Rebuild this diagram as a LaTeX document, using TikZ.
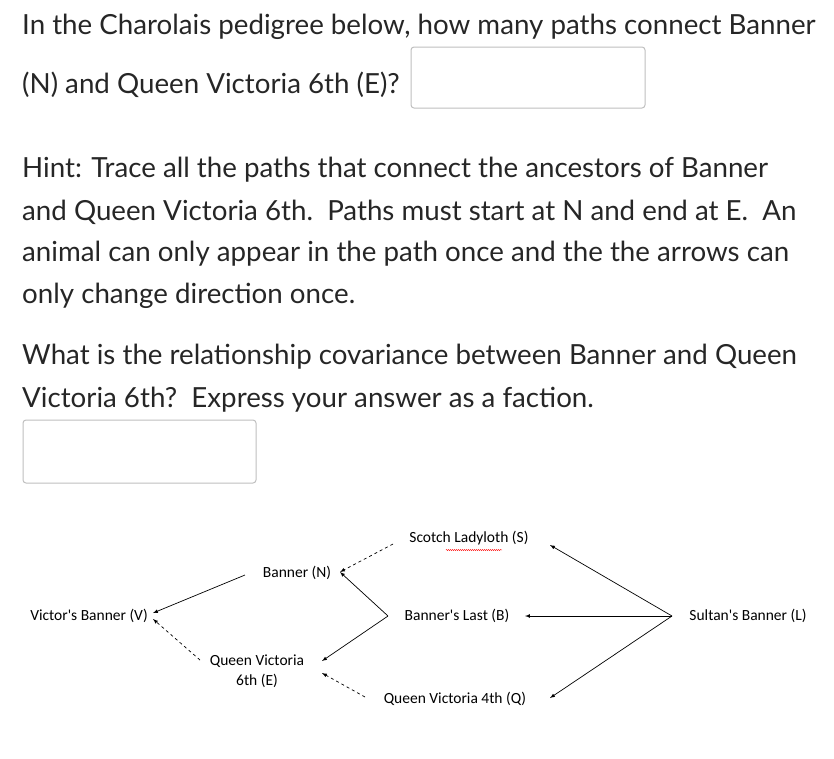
\documentclass[tikz,border=0pt]{standalone}
\usepackage{fontspec}
\setmainfont{Lato}
\newfontfamily\pedfont{Carlito}
\usetikzlibrary{decorations.pathmorphing}
\begin{document}
\begin{tikzpicture}[x=1pt,y=-1pt,
  qtext/.style={anchor=west,inner sep=0pt,font=\fontsize{27.7}{32}\selectfont,text=black!85},
  ansbox/.style={draw=black!25,rounded corners=3pt,line width=1pt},
  ped/.style={inner sep=1pt,font=\pedfont\fontsize{15.5}{20}\selectfont,align=center},
  sol/.style={-latex,line width=0.7pt},
  dsh/.style={-latex,line width=0.7pt,dashed}]
\useasboundingbox (0,0) rectangle (834,758);
\node[qtext] (t1) at (22,27) {In the Charolais pedigree below, how many paths connect Banner};
\node[qtext] (t2) at (22,85) {(N) and Queen Victoria 6th (E)?};
\draw[ansbox] (411,47) rectangle (645,108);
\node[qtext] (t3) at (22,170) {Hint: Trace all the paths that connect the ancestors of Banner};
\node[qtext] (t4) at (22,212) {and Queen Victoria 6th.\ \ Paths must start at N and end at E.\ \ An};
\node[qtext] (t5) at (22,254) {animal can only appear in the path once and the the arrows can};
\node[qtext] (t6) at (22,296) {only change direction once.};
\node[qtext] (t7) at (22,357) {What is the relationship covariance between Banner and Queen};
\node[qtext] (t8) at (22,400) {Victoria 6th?\ \ Express your answer as a faction.};
\draw[ansbox] (23,420) rectangle (256,483);

\node[ped] (S) at (469,538) {Scotch Ladyloth (S)};
\node[ped] (N) at (297,573) {Banner (N)};
\node[ped] (V) at (89,616) {Victor's Banner (V)};
\node[ped] (B) at (457,616) {Banner's Last (B)};
\node[ped] (L) at (748,616) {Sultan's Banner (L)};
\node[ped] (E) at (257,671) {Queen Victoria\\6th (E)};
\node[ped] (Q) at (455,699) {Queen Victoria 4th (Q)};
\draw[red,line width=0.4pt,decorate,decoration={snake,amplitude=0.6pt,segment length=2pt}] (446,550) -- (502,550);

\coordinate (Nw) at (245,575);
\coordinate (Ne) at (340,572);
\coordinate (Ve) at (153,613);
\coordinate (Vse) at (153,619);
\coordinate (Sw) at (393,544);
\coordinate (Se) at (550,545);
\coordinate (Bw) at (388,616);
\coordinate (Be) at (525,616);
\coordinate (Lw) at (672,616);
\coordinate (Enw) at (200,660);
\coordinate (Ene) at (322,661);
\coordinate (Ee) at (322,673);
\coordinate (Qw) at (365,697);
\coordinate (Qe) at (550,698);

\draw[sol] (Nw) -- (Ve);
\draw[dsh] (Sw) -- (Ne);
\draw[sol] (Bw) -- (Ne);
\draw[sol] (Bw) -- (Ene);
\draw[sol] (Lw) -- (Se);
\draw[sol] (Lw) -- (Be);
\draw[sol] (Lw) -- (Qe);
\draw[dsh] (Enw) -- (Vse);
\draw[dsh] (Qw) -- (Ee);
\end{tikzpicture}
\end{document}
